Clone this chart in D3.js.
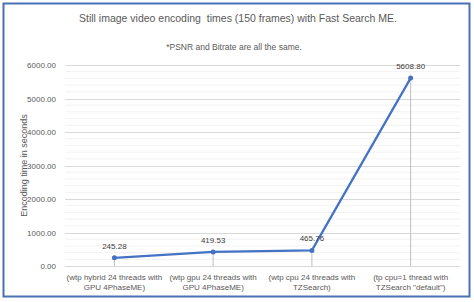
<!DOCTYPE html>
<html lang="en">
<head>
    <meta charset="UTF-8">
    <title>Still image video encoding times</title>
    <script src="https://d3js.org/d3.v7.min.js"></script>
    <style>
        body { margin: 0; background: #fff; }
        text { font-family: "Liberation Sans", Arial, sans-serif; }
    </style>
</head>
<body>
    <svg width="474" height="302"></svg>

    <script>
        // chart data
        const categories = [
            ["(wtp hybrid 24 threads with", "GPU 4PhaseME)"],
            ["(wtp gpu 24 threads with", "GPU 4PhaseME)"],
            ["(wtp cpu 24 threads with", "TZSearch)"],
            ["(tp cpu=1 thread with", "TZSearch \"default\")"]
        ];
        const times = [245.28, 419.53, 465.76, 5608.80];
        const yTicks = [0, 1000, 2000, 3000, 4000, 5000, 6000];
        const minorTicks = d3.range(0, 6001, 200);

        const width = 474, height = 302;
        const margin = {top: 65, right: 14, bottom: 36, left: 65};
        const svg = d3.select("svg");
        const lineColor = "#4472C4";

        // outer frame
        svg.append("rect")
            .attr("x", 3.5).attr("y", 3.5)
            .attr("width", 466).attr("height", 293)
            .attr("fill", "#fff")
            .attr("stroke", "#4a70b5")
            .attr("stroke-width", 2);

        const x = d3.scaleBand()
            .domain(d3.range(categories.length))
            .range([margin.left, width - margin.right]);

        const y = d3.scaleLinear()
            .domain([0, 6000])
            .range([266, 65]);

        // minor gridlines
        svg.append("g").selectAll("line")
            .data(minorTicks.filter(d => d % 1000 !== 0))
            .join("line")
            .attr("x1", x.range()[0]).attr("x2", x.range()[1])
            .attr("y1", d => y(d)).attr("y2", d => y(d))
            .attr("stroke", "#f2f2f2");

        // major gridlines
        svg.append("g").selectAll("line")
            .data(yTicks)
            .join("line")
            .attr("x1", x.range()[0]).attr("x2", x.range()[1])
            .attr("y1", d => Math.round(y(d)) + 0.5).attr("y2", d => Math.round(y(d)) + 0.5)
            .attr("stroke", "#d9d9d9");

        // y axis labels
        const yAxis = svg.append("g")
            .attr("transform", `translate(${margin.left - 6},0)`)
            .call(d3.axisLeft(y).tickValues(yTicks).tickFormat(d3.format(".2f")).tickSize(0));
        yAxis.select(".domain").remove();
        yAxis.selectAll("text")
            .attr("fill", "#595959")
            .style("font-size", "8px");

        // y axis title
        svg.append("text")
            .attr("transform", `translate(27,${y(3000)}) rotate(-90)`)
            .attr("text-anchor", "middle")
            .attr("fill", "#595959")
            .style("font-size", "9px")
            .text("Encoding time in seconds");

        // drop lines
        svg.append("g").selectAll("line")
            .data(times)
            .join("line")
            .attr("x1", (d, i) => x(i) + x.bandwidth() / 2)
            .attr("x2", (d, i) => x(i) + x.bandwidth() / 2)
            .attr("y1", d => y(d))
            .attr("y2", y(0))
            .attr("stroke", "#bfbfbf");

        // category labels
        const catLabels = svg.append("g").selectAll("text")
            .data(categories)
            .join("text")
            .attr("text-anchor", "middle")
            .attr("fill", "#595959")
            .style("font-size", "8px")
            .attr("x", (d, i) => x(i) + x.bandwidth() / 2)
            .attr("y", 280);
        catLabels.selectAll("tspan")
            .data(d => d)
            .join("tspan")
            .attr("x", function() { return this.parentNode.getAttribute("x"); })
            .attr("dy", (d, i) => i === 0 ? 0 : 10)
            .text(d => d);

        // the line
        const line = d3.line()
            .x((d, i) => x(i) + x.bandwidth() / 2)
            .y(d => y(d));

        svg.append("path")
            .datum(times)
            .attr("d", line)
            .attr("fill", "none")
            .attr("stroke", lineColor)
            .attr("stroke-width", 2.25)
            .attr("stroke-linejoin", "round");

        svg.append("g").selectAll("circle")
            .data(times)
            .join("circle")
            .attr("cx", (d, i) => x(i) + x.bandwidth() / 2)
            .attr("cy", d => y(d))
            .attr("r", 2.5)
            .attr("fill", lineColor);

        // data labels
        svg.append("g").selectAll("text")
            .data(times)
            .join("text")
            .attr("text-anchor", "middle")
            .attr("fill", "#404040")
            .style("font-size", "8px")
            .attr("x", (d, i) => x(i) + x.bandwidth() / 2)
            .attr("y", d => y(d) - 9)
            .text(d => d3.format(".2f")(d));

        // titles
        svg.append("text")
            .attr("x", 238)
            .attr("y", 22)
            .attr("text-anchor", "middle")
            .attr("fill", "#595959")
            .style("font-size", "10.5px")
            .style("white-space", "pre")
            .text("Still image video encoding  times (150 frames) with Fast Search ME.");

        svg.append("text")
            .attr("x", 234)
            .attr("y", 50)
            .attr("text-anchor", "middle")
            .attr("fill", "#595959")
            .style("font-size", "8.5px")
            .text("*PSNR and Bitrate are all the same.");
    </script>
</body>
</html>
